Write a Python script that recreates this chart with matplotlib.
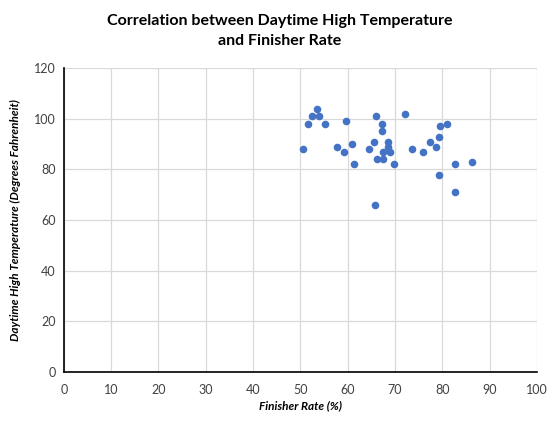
import matplotlib.pyplot as plt

# finisher rate (%) and daytime high temperature (F)
finisher_rate = [50.6, 51.7, 52.5, 53.4, 54.0, 55.2, 57.8, 59.2, 59.6, 60.8,
                 61.3, 64.4, 65.5, 65.9, 66.1, 65.7, 67.2, 67.2, 67.5, 67.5,
                 68.4, 68.4, 68.9, 69.8, 72.2, 73.5, 75.9, 77.4, 78.7, 79.2,
                 79.2, 79.5, 80.9, 82.7, 82.7, 86.2]
high_temp = [88, 98, 101, 104, 101, 98, 89, 87, 99, 90,
             82, 88, 91, 101, 84, 66, 98, 95, 87, 84,
             91, 89, 87, 82, 102, 88, 87, 91, 89, 93,
             78, 97, 98, 82, 71, 83]

x_ticks = list(range(0, 101, 10))
y_ticks = list(range(0, 121, 20))

plt.rcParams['font.family'] = ['Lato', 'DejaVu Sans']

fig = plt.figure(figsize=(5.6, 4.29), dpi=100)
ax = fig.add_axes([0.114, 0.133, 0.845, 0.708])

ax.scatter(finisher_rate, high_temp, s=30, color='#4472C4', zorder=3,
           linewidths=0)

ax.set_xlim(0, 100)
ax.set_ylim(0, 120)
ax.set_xticks(x_ticks)
ax.set_yticks(y_ticks)
ax.grid(color='#d9d9d9', linewidth=0.9)
ax.set_axisbelow(True)

for side in ['top', 'right']:
    ax.spines[side].set_visible(False)
for side in ['left', 'bottom']:
    ax.spines[side].set_color('black')
    ax.spines[side].set_linewidth(1.2)
    ax.spines[side].set_zorder(4)

ax.tick_params(length=0, labelsize=9, colors='#404040', pad=6)
ax.tick_params(axis='x', pad=9)

ax.set_xlabel('Finisher Rate (%)', fontsize=8.5, fontweight='bold',
              fontstyle='italic', labelpad=3)
ax.set_ylabel('Daytime High Temperature (Degrees Fahrenheit)', fontsize=8.5,
              fontweight='bold', fontstyle='italic', labelpad=9)

fig.suptitle('Correlation between Daytime High Temperature\nand Finisher Rate',
             fontsize=11.5, fontweight='bold', y=0.968, linespacing=1.6)

fig.savefig('out.png', dpi=100)
